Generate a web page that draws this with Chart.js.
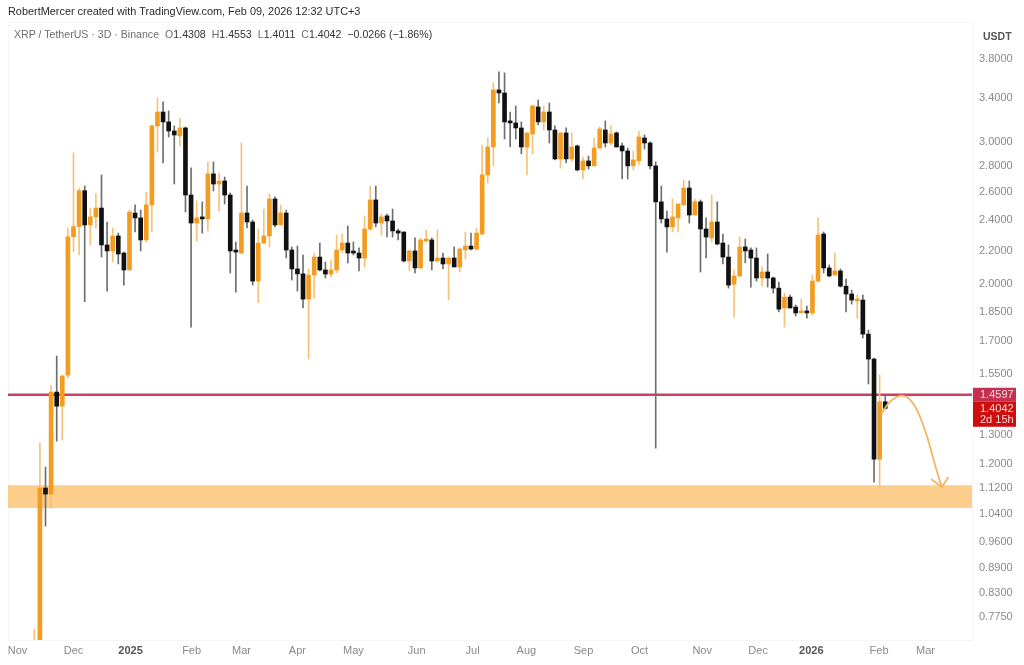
<!DOCTYPE html>
<html>
<head>
<meta charset="utf-8">
<title>XRP / TetherUS</title>
<script src="https://cdn.jsdelivr.net/npm/chart.js@4/dist/chart.umd.min.js"></script>
<style>
    html, body { margin: 0; padding: 0; background: #fff; overflow: hidden; }
    #wrap { position: relative; width: 1024px; height: 665px; font-family: "Liberation Sans", sans-serif; }
    canvas { position: absolute; left: 0; top: 0; }
    #credit { position: absolute; left: 8px; top: 5px; font-size: 10.9px; color: #2a2a2a; white-space: nowrap; }
    #legend { position: absolute; left: 14px; top: 28px; font-size: 10.6px; color: #6e6e6e; white-space: nowrap; }
    #legend b { font-weight: 400; color: #333; }
    #legend span { margin-left: 6px; }
    #unit { position: absolute; left: 983px; top: 30px; font-size: 10.5px; font-weight: 700; color: #555; }
</style>
</head>
<body>
<div id="wrap">
    <canvas id="chart" width="1024" height="665"></canvas>
    <div id="credit">RobertMercer created with TradingView.com, Feb 09, 2026 12:32 UTC+3</div>
    <div id="legend">XRP / TetherUS · 3D · Binance<span>O<b>1.4308</b></span><span>H<b>1.4553</b></span><span>L<b>1.4011</b></span><span>C<b>1.4042</b></span><span><b>−0.0266 (−1.86%)</b></span></div>
    <div id="unit">USDT</div>
</div>
<script>
// Candles (3 day bars, Nov 2024 to Feb 2026)
const candleOpen = [
    0.70, 0.70, 1.119, 1.100, 1.471, 1.413,
    1.544, 2.290, 2.357, 2.611, 2.368, 2.423, 2.485, 2.237, 2.199, 2.295,
    2.186, 2.083, 2.450, 2.416, 2.269, 2.507, 3.140, 3.267, 3.176, 3.095,
    3.052, 3.122, 2.579, 2.381, 2.416, 2.409, 2.739, 2.661, 2.684, 2.579,
    2.199, 2.186, 2.450, 2.388, 2.018, 2.249, 2.295, 2.550, 2.368, 2.450,
    2.205, 2.089, 2.060, 1.917, 2.053, 2.161, 2.083, 2.059, 2.083, 2.205,
    2.249, 2.192, 2.186, 2.155, 2.341, 2.543, 2.381, 2.430, 2.395, 2.328,
    2.321, 2.137, 2.199, 2.095, 2.262, 2.269, 2.137, 2.155, 2.119, 2.155,
    2.101, 2.205, 2.230, 2.211, 2.308, 2.731, 2.957, 3.479, 3.449, 3.176,
    3.167, 3.122, 2.957, 3.069, 3.314, 3.176, 3.267, 3.104, 2.858, 3.078,
    2.858, 2.966, 2.770, 2.842, 2.802, 2.949, 3.104, 2.991, 3.078, 2.966,
    2.924, 2.802, 2.842, 3.034, 2.991, 2.802, 2.529, 2.409, 2.355, 2.416,
    2.507, 2.631, 2.436, 2.529, 2.341, 2.282, 2.388, 2.249, 2.161, 2.000,
    2.048, 2.224, 2.205, 2.155, 2.036, 2.071, 2.036, 1.978, 1.869, 1.928,
    1.874, 1.843, 1.848, 1.843, 2.018, 2.308, 2.095, 2.053, 2.077, 1.989,
    1.945, 1.907, 1.912, 1.735, 1.616, 1.215, 1.4308
];
const candleHigh = [
    0.749, 1.272, 1.188, 1.500, 1.630, 1.544,
    2.348, 2.907, 2.631, 2.646, 2.485, 2.587, 2.731, 2.388, 2.348, 2.314,
    2.192, 2.471, 2.507, 2.471, 2.601, 3.149, 3.400, 3.362, 3.277, 3.140,
    3.212, 3.131, 2.786, 2.536, 2.529, 2.834, 2.834, 2.746, 2.715, 2.594,
    2.256, 2.991, 2.646, 2.402, 2.341, 2.478, 2.587, 2.565, 2.507, 2.471,
    2.224, 2.230, 2.174, 2.089, 2.186, 2.249, 2.131, 2.143, 2.301, 2.308,
    2.361, 2.256, 2.218, 2.430, 2.646, 2.646, 2.443, 2.443, 2.478, 2.341,
    2.321, 2.205, 2.282, 2.282, 2.334, 2.282, 2.334, 2.186, 2.161, 2.224,
    2.218, 2.321, 2.314, 2.348, 2.974, 3.034, 3.550, 3.662, 3.652, 3.267,
    3.324, 3.176, 3.078, 3.333, 3.381, 3.324, 3.352, 3.140, 3.078, 3.122,
    3.078, 2.974, 2.874, 2.882, 3.034, 3.131, 3.185, 3.140, 3.087, 2.991,
    2.949, 2.924, 3.095, 3.060, 3.000, 2.834, 2.646, 2.464, 2.550, 2.514,
    2.692, 2.684, 2.550, 2.543, 2.416, 2.579, 2.529, 2.308, 2.237, 2.083,
    2.288, 2.275, 2.218, 2.218, 2.101, 2.180, 2.042, 2.013, 1.950, 1.939,
    1.885, 1.917, 1.879, 2.053, 2.416, 2.321, 2.113, 2.186, 2.089, 2.030,
    1.967, 1.939, 1.939, 1.755, 1.620, 1.544, 1.4553
];
const candleLow = [
    0.69, 0.69, 1.004, 1.057, 1.279, 1.283,
    1.531, 2.195, 2.174, 1.903, 2.237, 2.348, 2.161, 1.961, 2.131, 2.119,
    1.995, 2.083, 2.321, 2.199, 2.256, 2.321, 2.915, 2.826, 3.043, 2.661,
    2.966, 2.457, 1.770, 2.262, 2.314, 2.328, 2.609, 2.464, 2.514, 2.065,
    1.956, 2.180, 2.348, 1.995, 1.898, 2.243, 2.224, 2.355, 2.368, 2.155,
    2.024, 1.961, 1.869, 1.616, 1.923, 2.077, 2.036, 2.042, 2.065, 2.186,
    2.125, 2.174, 2.077, 2.101, 2.334, 2.355, 2.301, 2.288, 2.288, 2.269,
    2.131, 2.077, 2.065, 2.089, 2.256, 2.083, 2.131, 2.089, 1.912, 2.101,
    2.071, 2.149, 2.205, 2.205, 2.301, 2.669, 2.802, 3.352, 3.025, 2.957,
    3.025, 2.899, 2.731, 2.899, 3.149, 3.104, 2.991, 2.850, 2.786, 2.826,
    2.834, 2.762, 2.700, 2.778, 2.802, 2.940, 2.957, 2.974, 2.957, 2.700,
    2.700, 2.770, 2.810, 2.940, 2.778, 1.254, 2.381, 2.192, 2.321, 2.321,
    2.507, 2.381, 2.436, 2.071, 2.155, 2.256, 2.237, 2.119, 1.978, 1.821,
    2.042, 2.125, 1.984, 2.018, 1.989, 1.984, 1.950, 1.848, 1.770, 1.869,
    1.827, 1.843, 1.816, 1.832, 2.013, 2.065, 2.042, 2.053, 1.984, 1.848,
    1.890, 1.816, 1.716, 1.505, 1.138, 1.122, 1.4011
];
const candleClose = [
    0.72, 1.119, 1.100, 1.471, 1.413, 1.540,
    2.290, 2.357, 2.611, 2.368, 2.423, 2.485, 2.237, 2.199, 2.295, 2.180,
    2.083, 2.457, 2.416, 2.269, 2.507, 3.140, 3.267, 3.176, 3.095, 3.060,
    3.122, 2.579, 2.381, 2.416, 2.409, 2.739, 2.661, 2.684, 2.579, 2.199,
    2.192, 2.450, 2.388, 2.018, 2.249, 2.295, 2.550, 2.368, 2.450, 2.205,
    2.089, 2.060, 1.917, 2.053, 2.161, 2.083, 2.059, 2.083, 2.205, 2.249,
    2.186, 2.186, 2.155, 2.341, 2.543, 2.381, 2.423, 2.395, 2.328, 2.314,
    2.137, 2.199, 2.095, 2.269, 2.269, 2.137, 2.155, 2.119, 2.155, 2.101,
    2.211, 2.230, 2.211, 2.314, 2.731, 2.957, 3.479, 3.449, 3.176, 3.167,
    3.122, 2.957, 3.078, 3.324, 3.176, 3.267, 3.104, 2.858, 3.078, 2.858,
    2.957, 2.770, 2.842, 2.802, 2.949, 3.113, 2.991, 3.069, 2.957, 2.924,
    2.802, 2.850, 3.043, 2.991, 2.802, 2.529, 2.409, 2.355, 2.423, 2.514,
    2.631, 2.436, 2.529, 2.341, 2.288, 2.388, 2.243, 2.161, 1.995, 2.048,
    2.224, 2.199, 2.155, 2.036, 2.071, 2.036, 1.978, 1.863, 1.928, 1.869,
    1.843, 1.848, 1.843, 2.018, 2.301, 2.095, 2.048, 2.077, 1.989, 1.945,
    1.912, 1.912, 1.735, 1.616, 1.215, 1.4308, 1.4042
];

// Axes
const priceTicks = [3.8, 3.4, 3.0, 2.8, 2.6, 2.4, 2.2, 2.0, 1.85, 1.7, 1.55, 1.3, 1.2, 1.12, 1.04, 0.96, 0.89, 0.83, 0.775];
const timeLabels = ['Nov', 'Dec', '2025', 'Feb', 'Mar', 'Apr', 'May', 'Jun', 'Jul', 'Aug', 'Sep', 'Oct', 'Nov', 'Dec', '2026', 'Feb', 'Mar'];
const timeTicks = [-3, 7, 17.2, 28.1, 37, 47, 57, 68.3, 78.3, 87.9, 98.1, 108.1, 119.3, 129.3, 138.8, 150.9, 159.2];
const barMin = -4.7;
const barMax = 167.5;
const priceMin = 0.7258;
const priceMax = 4.222;

// Things drawn on top of the chart
const resistance = 1.4597;
const lastPrice = 1.4042;
const zoneTop = 1.128;
const zoneBottom = 1.057;
const arrowBars = [151.4, 152.5, 153.8, 155, 156.3, 157.7, 159.5, 161, 162.1];
const arrowPrices = [1.385, 1.422, 1.447, 1.456, 1.443, 1.397, 1.294, 1.188, 1.122];
const headBars = [160.2, 162.1, 163.3];
const headPrices = [1.148, 1.122, 1.155];

const ORANGE = '#f39c1f';
const BLACK = '#111111';
const FONT = '"Liberation Sans", sans-serif';

function isUp(i) {
    return candleClose[i] >= candleOpen[i];
}

function isYear(label) {
    return Boolean(label) && label.startsWith('20');
}

function toPoints(xs, ys) {
    return xs.map((x, i) => ({ x: x, y: ys[i] }));
}

const wicks = candleHigh.map((h, i) => ({ x: i, y: [candleLow[i], h] }));
const bodies = candleOpen.map((o, i) => ({ x: i, y: [o, candleClose[i]] }));

// Frame around the plot and the coloured price tags on the axis
const tagsPlugin = {
    id: 'priceTags',
    beforeDatasetsDraw(chart) {
        const { ctx, chartArea: a } = chart;
        ctx.save();
        ctx.strokeStyle = '#f6f6f6';
        ctx.lineWidth = 1;
        ctx.strokeRect(a.left + 0.5, a.top + 0.5, a.right - a.left, a.bottom - a.top);
        ctx.restore();
    },
    afterDraw(chart) {
        const { ctx, chartArea: a, scales } = chart;
        const y = scales.y;
        const y1 = y.getPixelForValue(resistance);
        const y2 = y.getPixelForValue(lastPrice);
        ctx.save();
        ctx.font = '11px ' + FONT;
        ctx.textBaseline = 'middle';
        ctx.textAlign = 'left';
        ctx.fillStyle = '#c4304f';
        ctx.fillRect(a.right + 1, y1 - 7, 43, 14);
        ctx.fillStyle = '#cf0d0d';
        ctx.fillRect(a.right + 1, y1 + 7, 43, 25);
        ctx.fillStyle = '#fbdada';
        ctx.fillText(resistance.toFixed(4), a.right + 8, y1 + 0.5);
        ctx.fillText(lastPrice.toFixed(4), a.right + 8, y2 + 0.5);
        ctx.fillText('2d 15h', a.right + 8, y2 + 12);
        ctx.restore();
    }
};

new Chart(document.getElementById('chart'), {
    type: 'bar',
    data: {
        datasets: [
            {
                label: 'Bodies',
                data: bodies,
                order: 1,
                grouped: false,
                barPercentage: 1,
                categoryPercentage: 1,
                maxBarThickness: 4,
                minBarLength: 2,
                backgroundColor: (c) => (isUp(c.dataIndex) ? ORANGE : BLACK)
            },
            {
                label: 'Wicks',
                data: wicks,
                order: 2,
                grouped: false,
                barPercentage: 1,
                categoryPercentage: 1,
                maxBarThickness: 1,
                backgroundColor: (c) => (isUp(c.dataIndex) ? '#f5c27a' : '#6e6e6e')
            },
            {
                type: 'line',
                label: 'Resistance',
                data: toPoints([barMin, barMax], [resistance, resistance]),
                order: 3,
                borderColor: '#cb3f62',
                borderWidth: 2.5,
                pointRadius: 0
            },
            {
                type: 'line',
                label: 'Zone top',
                data: toPoints([barMin, barMax], [zoneTop, zoneTop]),
                order: 4,
                borderWidth: 0,
                pointRadius: 0,
                fill: '+1',
                backgroundColor: '#fdcd8b'
            },
            {
                type: 'line',
                label: 'Zone bottom',
                data: toPoints([barMin, barMax], [zoneBottom, zoneBottom]),
                order: 5,
                borderWidth: 0,
                pointRadius: 0
            },
            {
                type: 'line',
                label: 'Arrow',
                data: toPoints(arrowBars, arrowPrices),
                order: 0,
                borderColor: '#f3b65f',
                borderWidth: 1.8,
                pointRadius: 0,
                tension: 0.4
            },
            {
                type: 'line',
                label: 'Arrow head',
                data: toPoints(headBars, headPrices),
                order: 0,
                borderColor: '#f3b65f',
                borderWidth: 1.8,
                pointRadius: 0
            }
        ]
    },
    options: {
        responsive: false,
        animation: false,
        layout: { padding: { left: 8, top: 22, right: 0, bottom: 0 } },
        plugins: {
            legend: { display: false },
            tooltip: { enabled: false }
        },
        scales: {
            x: {
                type: 'linear',
                offset: false,
                min: barMin,
                max: barMax,
                grid: { display: false, drawTicks: false },
                border: { display: true, color: '#e9e9e9' },
                afterBuildTicks: (scale) => {
                    scale.ticks = timeTicks.map((v) => ({ value: v }));
                },
                afterFit: (scale) => {
                    scale.height = 25;
                    scale.paddingLeft = 0;
                    scale.paddingRight = 0;
                },
                ticks: {
                    autoSkip: false,
                    maxRotation: 0,
                    padding: 4,
                    callback: (value, index) => timeLabels[index],
                    color: (c) => (isYear(timeLabels[c.index]) ? '#555' : '#8a8a8a'),
                    font: (c) => ({
                        family: FONT,
                        size: 11,
                        weight: isYear(timeLabels[c.index]) ? '700' : '400'
                    })
                }
            },
            y: {
                type: 'logarithmic',
                position: 'right',
                bounds: 'data',
                min: priceMin,
                max: priceMax,
                grid: { display: false, drawTicks: false },
                border: { display: true, color: '#e9e9e9' },
                afterBuildTicks: (scale) => {
                    scale.ticks = priceTicks.map((v) => ({ value: v }));
                },
                afterFit: (scale) => {
                    scale.width = 52;
                    scale.paddingTop = 0;
                    scale.paddingBottom = 0;
                },
                ticks: {
                    autoSkip: false,
                    padding: 7,
                    callback: (value) => Number(value).toFixed(4),
                    color: '#8a8a8a',
                    font: { family: FONT, size: 11 }
                }
            }
        }
    },
    plugins: [tagsPlugin]
});
</script>
</body>
</html>
